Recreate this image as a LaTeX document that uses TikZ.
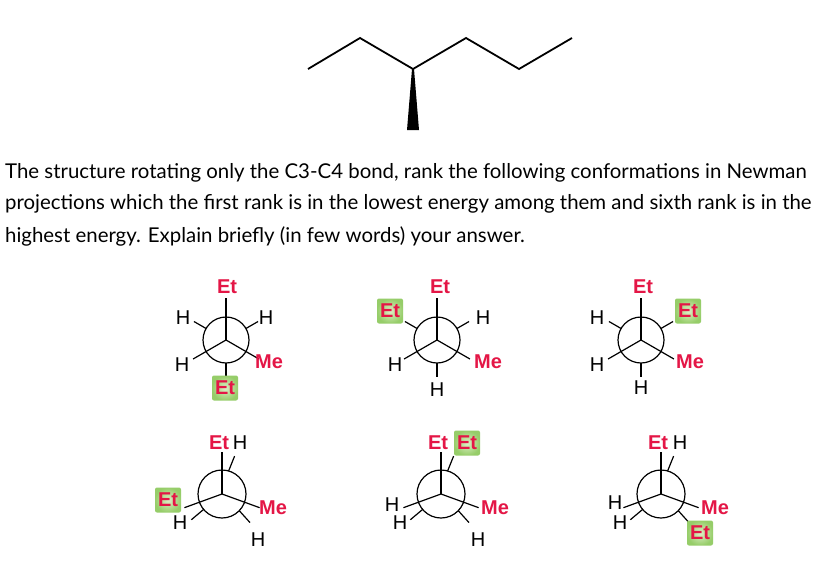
\documentclass[tikz,border=0pt]{standalone}
\usepackage{fontspec}
\setmainfont{Lato}
\newfontfamily\lab{Liberation Sans}
\definecolor{chemred}{RGB}{228,22,70}
\definecolor{boxg}{RGB}{150,205,105}
\definecolor{boxl}{RGB}{222,240,200}
\tikzset{
 body/.style={anchor=west,font=\fontsize{20.4}{22}\selectfont,inner sep=0},
 grp/.style={font=\lab\bfseries\fontsize{20}{21}\selectfont,text=chemred,inner sep=0},
 hh/.style={font=\lab\fontsize{20}{21}\selectfont,inner sep=0},
 gbox/.style={grp,inner sep=3pt,rounded corners=2pt,inner color=boxl,outer color=boxg,minimum height=25pt},
 bond/.style={line width=1.2pt},
 ring/.style={circle,line width=1.2pt,minimum size=46pt,inner sep=0}
}
\begin{document}
\begin{tikzpicture}[x=1pt,y=-1pt]
\useasboundingbox[fill=white] (0,0) rectangle (834,581);
\draw[line width=1.8pt,line join=miter] (308,69)--(360,38)--(413,69)--(466,38)--(519,69)--(572,38);
\fill (412,69)--(407,130)--(419,130)--(414,69)--cycle;
\node[body] (t1) at (5,173) {The structure rotating only the C3-C4 bond, rank the following conformations in Newman};
\node[body] (t2) at (5,204) {projections which the first rank is in the lowest energy among them and sixth rank is in the};
\node[body] (t3) at (5,236) {highest energy. Explain briefly (in few words) your answer.};
\newcommand\stag[1]{%
 \node[ring] (c#1) at (p#1) {};
 \draw[bond] (p#1) circle (23);
 \draw[bond] (p#1) -- ++(-90:42);
 \draw[bond] (p#1) -- ++(150:38);
 \draw[bond] (p#1) -- ++(30:38);
 \draw[bond] (p#1) ++(-30:23) -- ++(-30:14);
 \draw[bond] (p#1) ++(-150:23) -- ++(-150:14);
 \draw[bond] (p#1) ++(90:23) -- ++(90:14);
}
\newcommand\ecl[1]{%
 \node[ring] (c#1) at (p#1) {};
 \draw[bond] (p#1) circle (24);
 \draw[bond] (p#1) -- ++(-90:42);
 \draw[bond] (p#1) -- ++(160:40);
 \draw[bond] (p#1) -- ++(20:40);
 \draw[bond] (p#1) ++(-74:24) -- ++(-68:16);
 \draw[bond] (p#1) ++(140:24) -- ++(140:16);
 \draw[bond] (p#1) ++(44:24) -- ++(48:16);
}
\coordinate (p1) at (226,340); \coordinate (p2) at (437,340); \coordinate (p3) at (641,340);
\coordinate (p4) at (222,494); \coordinate (p5) at (441,494); \coordinate (p6) at (661,494);
\stag1 \stag2 \stag3
\ecl4 \ecl5 \ecl6
\node[grp] (a1) at (227,287) {Et}; \node[hh] (a2) at (183,318) {H}; \node[hh] (a3) at (266,318) {H};
\node[hh] (a4) at (182,365) {H}; \node[grp] (a5) at (269,362) {Me}; \node[gbox] (a6) at (225,388) {Et};
\node[grp] (b1) at (440,287) {Et}; \node[gbox] (b2) at (390,311) {Et}; \node[hh] (b3) at (483,318) {H};
\node[hh] (b4) at (395,365) {H}; \node[grp] (b5) at (488,362) {Me}; \node[hh] (b6) at (437,390) {H};
\node[grp] (d1) at (643,287) {Et}; \node[hh] (d2) at (597,318) {H}; \node[gbox] (d3) at (688,311) {Et};
\node[hh] (d4) at (597,365) {H}; \node[grp] (d5) at (690,362) {Me}; \node[hh] (d6) at (641,388) {H};
\node[grp] (e1) at (219,443) {Et}; \node[hh] (e2) at (240,443) {H}; \node[gbox] (e3) at (168,500) {Et};
\node[hh] (e4) at (180,523) {H}; \node[grp] (e5) at (273,508) {Me}; \node[hh] (e6) at (258,540) {H};
\node[grp] (f1) at (438,443) {Et}; \node[gbox] (f2) at (467,443) {Et}; \node[hh] (f3) at (392,505) {H};
\node[hh] (f4) at (400,523) {H}; \node[grp] (f5) at (495,508) {Me}; \node[hh] (f6) at (478,540) {H};
\node[grp] (g1) at (658,443) {Et}; \node[hh] (g2) at (680,443) {H}; \node[hh] (g3) at (615,503) {H};
\node[hh] (g4) at (620,523) {H}; \node[grp] (g5) at (715,508) {Me}; \node[gbox] (g6) at (700,533) {Et};
\end{tikzpicture}
\end{document}
